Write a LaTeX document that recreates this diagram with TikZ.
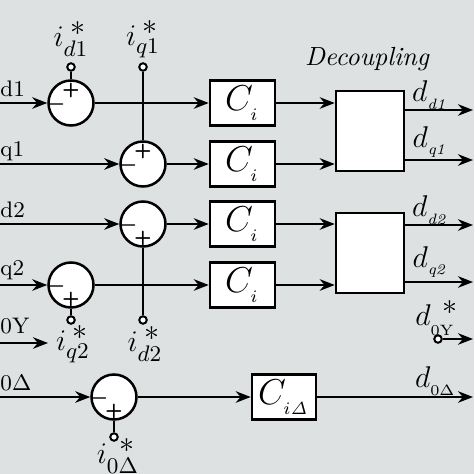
\documentclass[tikz,border=0pt]{standalone}
\usepackage{amsmath}
\usetikzlibrary{arrows.meta}
\definecolor{bg}{RGB}{221,225,225}
\newcommand{\bigast}{\text{\fontsize{11.5}{11.5}\selectfont$\ast$}}
\begin{document}
\begin{tikzpicture}[x=0.4pt,y=-0.4pt,
  sumnode/.style={circle,draw,fill=white,line width=1pt,minimum size=18pt,inner sep=0pt},
  cbox/.style={draw,fill=white,line width=1pt,minimum width=26pt,minimum height=18pt,inner sep=0pt,font=\fontsize{15}{15}\selectfont},
  dbox/.style={draw,fill=white,line width=1pt,minimum width=27.2pt,minimum height=32pt,inner sep=0pt},
  term/.style={circle,draw,fill=white,line width=0.8pt,minimum size=3pt,inner sep=0pt},
  sig/.style={line width=0.9pt,-{Stealth[length=6pt,width=4.6pt]}},
  wire/.style={line width=0.9pt},
  pm/.style={inner sep=0pt,font=\fontsize{8}{8}\selectfont\sffamily\bfseries},
  mn/.style={inner sep=0pt,font=\fontsize{8}{8}\selectfont\boldmath},
  ilab/.style={inner sep=0pt,font=\fontsize{12.5}{12.5}\selectfont},
  dlab/.style={inner sep=0pt,font=\fontsize{12}{12}\selectfont},
  elab/.style={inner sep=0pt,anchor=base west,font=\fontsize{9}{9}\selectfont}
]
\fill[bg] (0,0) rectangle (474,474);
\useasboundingbox (0,0) rectangle (474,474);

% summing junctions
\node[sumnode] (s1) at (71,103) {};
\node[sumnode] (s2) at (143,164) {};
\node[sumnode] (s3) at (143,224) {};
\node[sumnode] (s4) at (71,285) {};
\node[sumnode] (s5) at (114,397) {};

% signs
\node[pm] (p1) at (71,90) {+};
\node[mn] (m1) at (56,104) {$-$};
\node[pm] (p2) at (143,151) {+};
\node[mn] (m2) at (128,165) {$-$};
\node[pm] (p3) at (143,238) {+};
\node[mn] (m3) at (128,225) {$-$};
\node[pm] (p4) at (71,299) {+};
\node[mn] (m4) at (56,286) {$-$};
\node[pm] (p5) at (114,411) {+};
\node[mn] (m5) at (99,398) {$-$};

% reference terminals
\node[term] (t1) at (71,67) {};
\node[term] (t2) at (143,67) {};
\node[term] (t3) at (143,320) {};
\node[term] (t4) at (71,320) {};
\node[term] (t5) at (114,437) {};
\draw[wire] (t1) -- (s1);
\draw[wire] (t2) -- (s2);
\draw[wire] (t3) -- (s3);
\draw[wire] (t4) -- (s4);
\draw[wire] (t5) -- (s5);

\node[ilab] (l1) at (71,39) {$i^{\;\bigast}_{d1}$};
\node[ilab] (l2) at (143,39) {$i^{\;\bigast}_{q1}$};
\node[ilab] (l3) at (145,344) {$i^{\;\bigast}_{d2}$};
\node[ilab] (l4) at (73,344) {$i^{\;\bigast}_{q2}$};
\node[ilab] (l5) at (118,456) {$i^{\;\;\bigast}_{0\Delta}$};

% controllers
\node[cbox] (c1) at (242.5,103) {$C_{_i}$};
\node[cbox] (c2) at (242.5,164) {$C_{_i}$};
\node[cbox] (c3) at (242.5,224) {$C_{_i}$};
\node[cbox] (c4) at (242.5,285) {$C_{_i}$};
\node[cbox,minimum width=25.6pt] (c5) at (284,397) {$C_{_{i\mathit{\Delta}}}$};

% decoupling
\node[dbox] (dc1) at (370,131) {};
\node[dbox] (dc2) at (370,253) {};
\node[inner sep=0pt,font=\fontsize{10.5}{10.5}\selectfont\itshape] (dec) at (367,59) {Decoupling};

% inputs
\coordinate (in1) at (0,103);
\coordinate (in2) at (0,164);
\coordinate (in3) at (0,224);
\coordinate (in4) at (0,285);
\coordinate (in5) at (0,343);
\coordinate (e5) at (48,343);
\coordinate (in6) at (0,397);
\draw[sig] (in1) -- (s1);
\draw[sig] (in2) -- (s2);
\draw[sig] (in3) -- (s3);
\draw[sig] (in4) -- (s4);
\draw[sig] (in5) -- (e5);
\draw[sig] (in6) -- (s5);

\node[elab] (x1) at (0,96) {d1};
\node[elab] (x2) at (0,156) {q1};
\node[elab] (x3) at (0,217) {d2};
\node[elab] (x4) at (0,275) {q2};
\node[elab] (x5) at (0,333) {0Y};
\node[elab] (x6) at (0,390) {0$\Delta$};

% forward path
\draw[sig] (s1) -- (c1);
\draw[sig] (s2) -- (c2);
\draw[sig] (s3) -- (c3);
\draw[sig] (s4) -- (c4);
\draw[sig] (s5) -- (c5);
\draw[sig] (c1.east) -- (c1.east -| dc1.west);
\draw[sig] (c2.east) -- (c2.east -| dc1.west);
\draw[sig] (c3.east) -- (c3.east -| dc2.west);
\draw[sig] (c4.east) -- (c4.east -| dc2.west);

% outputs
\coordinate (o1) at (473,110);
\coordinate (o2) at (473,160);
\coordinate (o3) at (473,225);
\coordinate (o4) at (473,282);
\coordinate (o5) at (473,339);
\coordinate (o6) at (473,397);
\draw[sig] (dc1.east |- o1) -- (o1);
\draw[sig] (dc1.east |- o2) -- (o2);
\draw[sig] (dc2.east |- o3) -- (o3);
\draw[sig] (dc2.east |- o4) -- (o4);
\node[term] (t6) at (438,339) {};
\draw[sig] (t6) -- (o5);
\draw[sig] (c5) -- (o6);

\node[dlab] (d1) at (431,95) {$d_{_{\mathit{d1}}}$};
\node[dlab] (d2) at (431,142) {$d_{_{\mathit{q1}}}$};
\node[dlab] (d3) at (431,210) {$d_{_{\mathit{d2}}}$};
\node[dlab] (d4) at (431,262) {$d_{_{\mathit{q2}}}$};
\node[dlab] (d5) at (437,318) {$d^{\;\;\bigast}_{_{\mathrm{0Y}}}$};
\node[dlab] (d6) at (436,381) {$d_{_{0\Delta}}$};
\end{tikzpicture}
\end{document}
